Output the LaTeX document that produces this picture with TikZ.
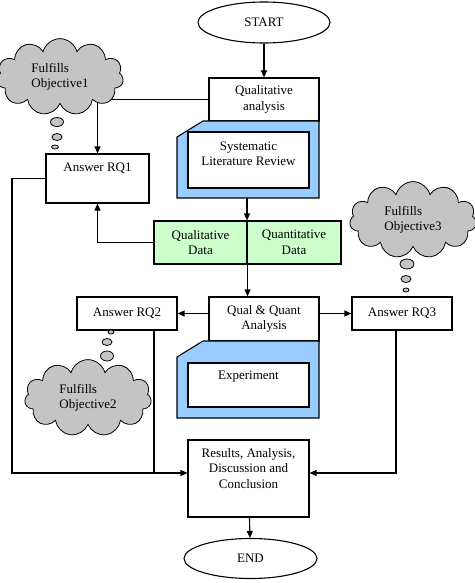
\documentclass[tikz,border=0pt]{standalone}
\usepackage{fontspec}
\setmainfont{Liberation Serif}
\usetikzlibrary{shapes.geometric,shapes.symbols,arrows.meta}
\definecolor{slrblue}{RGB}{153,204,255}
\definecolor{datagreen}{RGB}{204,255,204}
\definecolor{cloudgray}{RGB}{196,196,196}
\tikzset{
  box/.style={draw, fill=white, line width=1.1pt, inner sep=0pt, align=center},
  term/.style={draw, ellipse, fill=white, line width=1.1pt, inner sep=0pt},
  thought/.style={draw, cloud, cloud puffs=11, cloud ignores aspect, fill=cloudgray,
    line width=0.8pt, inner xsep=14pt, inner ysep=5pt, align=left},
  bubble/.style={draw, fill=cloudgray, line width=0.8pt},
  frame/.style={draw, fill=slrblue, line width=1.1pt},
  flow/.style={line width=1.1pt, -{Triangle[length=7pt,width=6pt]}},
  plain/.style={line width=1.1pt}
}
\begin{document}
\begin{tikzpicture}[x=1pt, y=-1pt, font=\fontsize{13}{15.5}\selectfont]
    \useasboundingbox (0,0) rectangle (474,583);
    %% Draw the main column
    \node[term, minimum width=132pt, minimum height=41pt] (start) at (264,22.5) {START};
    \node[box, minimum width=110pt, minimum height=43pt] (qa) at (264,99.5) {Qualitative\\analysis};
    \draw[frame] (203,121) -- (319,121) -- (319,198) -- (177,198) -- (177,137) -- cycle;
    \node[box, minimum width=121pt, minimum height=56pt] (slr) at (248.5,160) {};
    \node[align=center] (slrtxt) at (248.5,154) {Systematic\\Literature Review};
    \coordinate (slrbot) at (247,198);
    \node[box, fill=datagreen, minimum width=93pt, minimum height=43pt] (qual) at (200.5,242.5) {Qualitative\\Data};
    \node[box, fill=datagreen, minimum width=94pt, minimum height=43pt] (quant) at (294,242.5) {Quantitative\\Data};
    \node[box, minimum width=110pt, minimum height=44pt] (qq) at (264,319) {Qual \& Quant\\Analysis};
    \draw[frame] (203,341) -- (319,341) -- (319,418) -- (177,418) -- (177,357) -- cycle;
    \node[box, minimum width=121pt, minimum height=44pt] (exp) at (248.5,385) {};
    \node (exptxt) at (248.5,377) {Experiment};
    \node[box, minimum width=121pt, minimum height=77pt] (res) at (248.5,478.5) {};
    \node[align=center] (restxt) at (248.5,468.5) {Results, Analysis,\\Discussion and\\Conclusion};
    \node[term, minimum width=133pt, minimum height=40pt] (endn) at (250.5,558.5) {END};
    %% Draw the answers
    \node[box, minimum width=103pt, minimum height=49pt] (rq1) at (97.5,178.5) {};
    \node (rq1txt) at (97.5,168) {Answer RQ1};
    \node[box, minimum width=100pt, minimum height=33pt] (rq2) at (127,313.5) {Answer RQ2};
    \node[box, minimum width=100pt, minimum height=33pt] (rq3) at (402,313.5) {Answer RQ3};
    %% Draw the edges
    \coordinate (lft) at (12,473);
    \coordinate (j2) at (154,473);
    \coordinate (j3) at (396,473);
    \draw[flow] (start) -- (qa);
    \draw[flow] (slrbot) -- (slrbot |- qual.north);
    \draw[flow] (qual.north east) -- (qual.north east |- qq.north);
    \draw[flow] (qa.west) -| (rq1.north);
    \draw[flow] (qual.west) -| (rq1.south);
    \draw[flow] (qq.west |- rq2.east) -- (rq2.east);
    \draw[flow] (qq.east |- rq3.west) -- (rq3.west);
    \draw[flow] (rq1.west) -| (lft) -- (lft -| res.west);
    \draw[plain] (j2 |- rq2.south) -- (j2);
    \draw[flow] (j3 |- rq3.south) -- (j3) -- (j3 -| res.east);
    \draw[flow] (res) -- (endn);
    %% Draw the clouds
    \node[thought] (obj1) at (60,77) {Fulfills\\Objective1};
    \node[thought] (obj3) at (413,220) {Fulfills\\Objective3};
    \node[thought] (obj2) at (88,398) {Fulfills\\Objective2};
    \draw[bubble] (57,122) ellipse (6.5pt and 4.5pt);
    \draw[bubble] (57,137) ellipse (5pt and 3.5pt);
    \draw[bubble] (55,147) ellipse (3.5pt and 2pt);
    \draw[bubble] (407,264) ellipse (7pt and 5pt);
    \draw[bubble] (406,279) ellipse (5pt and 3.5pt);
    \draw[bubble] (406,290) ellipse (3pt and 2pt);
    \draw[bubble] (107,356) ellipse (6.5pt and 5pt);
    \draw[bubble] (107,342) ellipse (5pt and 3.5pt);
    \draw[bubble] (111,332) ellipse (3pt and 2pt);
\end{tikzpicture}
\end{document}
